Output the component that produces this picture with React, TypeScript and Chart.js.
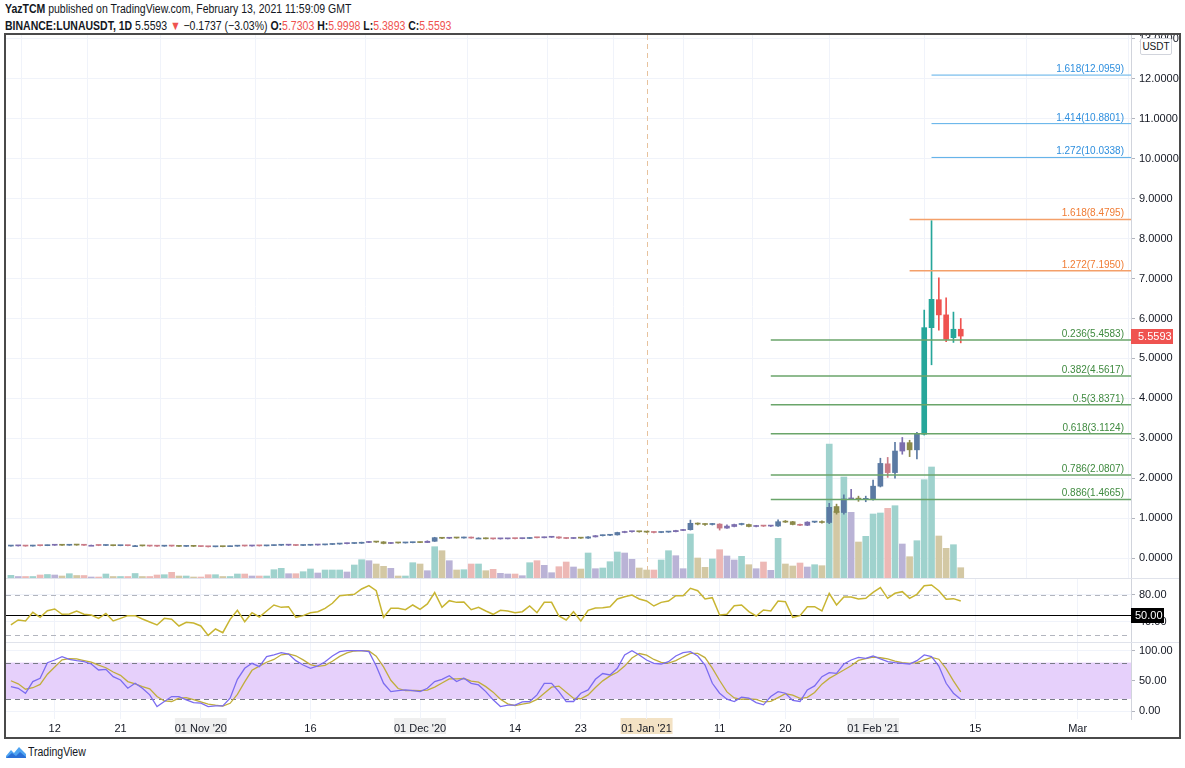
import React, { useEffect, useRef } from 'react';
import { Chart, registerables } from 'chart.js';
Chart.register(...registerables);

// Day index: 0 = 2020-10-01. First candle = 2020-10-06.
const FIRST_DAY = 5;

// [open, high, low, close]
const ohlc: [number, number, number, number][] = [
  [0.300,0.312,0.296,0.305],[0.305,0.316,0.300,0.310],[0.310,0.314,0.296,0.300],[0.300,0.320,0.298,0.315],[0.315,0.318,0.305,0.310],
  [0.310,0.326,0.308,0.320],[0.320,0.332,0.316,0.325],[0.325,0.328,0.314,0.320],[0.320,0.336,0.318,0.330],[0.330,0.334,0.320,0.325],
  [0.325,0.328,0.315,0.320],[0.320,0.326,0.314,0.320],[0.320,0.322,0.308,0.315],[0.315,0.326,0.312,0.320],[0.320,0.322,0.305,0.310],
  [0.310,0.320,0.306,0.315],[0.315,0.318,0.305,0.310],[0.310,0.316,0.304,0.310],[0.310,0.313,0.300,0.305],[0.305,0.308,0.296,0.300],
  [0.300,0.304,0.293,0.297],[0.297,0.308,0.294,0.305],[0.305,0.307,0.295,0.300],[0.300,0.302,0.288,0.292],[0.292,0.302,0.290,0.298],
  [0.298,0.300,0.288,0.293],[0.293,0.296,0.284,0.288],[0.288,0.290,0.276,0.282],[0.282,0.292,0.280,0.288],[0.288,0.290,0.280,0.285],
  [0.285,0.300,0.283,0.297],[0.297,0.312,0.295,0.308],[0.308,0.310,0.298,0.302],[0.302,0.314,0.300,0.310],[0.310,0.312,0.300,0.305],
  [0.305,0.316,0.303,0.312],[0.312,0.326,0.310,0.320],[0.320,0.328,0.314,0.322],[0.322,0.330,0.316,0.324],[0.324,0.326,0.310,0.315],
  [0.315,0.324,0.312,0.320],[0.320,0.330,0.318,0.326],[0.326,0.336,0.322,0.330],[0.330,0.345,0.328,0.340],[0.340,0.356,0.336,0.350],
  [0.350,0.366,0.346,0.360],[0.360,0.372,0.354,0.365],[0.365,0.376,0.360,0.370],[0.370,0.398,0.366,0.390],[0.390,0.420,0.386,0.410],
  [0.410,0.418,0.392,0.400],[0.405,0.412,0.355,0.365],[0.365,0.388,0.360,0.380],[0.380,0.386,0.372,0.378],[0.378,0.392,0.374,0.385],
  [0.385,0.396,0.380,0.390],[0.390,0.398,0.384,0.388],[0.388,0.432,0.386,0.420],[0.420,0.520,0.415,0.510],[0.510,0.518,0.488,0.495],
  [0.495,0.515,0.490,0.510],[0.510,0.514,0.496,0.502],[0.502,0.525,0.498,0.520],[0.520,0.526,0.496,0.500],[0.500,0.508,0.492,0.500],
  [0.500,0.503,0.478,0.482],[0.482,0.488,0.474,0.480],[0.480,0.486,0.474,0.481],[0.481,0.494,0.478,0.488],[0.488,0.494,0.480,0.486],
  [0.486,0.496,0.482,0.490],[0.490,0.516,0.488,0.510],[0.510,0.518,0.502,0.508],[0.508,0.526,0.504,0.520],[0.520,0.536,0.516,0.530],
  [0.530,0.534,0.494,0.500],[0.500,0.504,0.484,0.490],[0.490,0.508,0.486,0.500],[0.500,0.506,0.492,0.498],[0.498,0.536,0.494,0.530],
  [0.530,0.566,0.526,0.560],[0.560,0.576,0.552,0.570],[0.570,0.588,0.562,0.580],[0.580,0.648,0.574,0.640],[0.640,0.672,0.632,0.660],
  [0.660,0.672,0.646,0.662],[0.662,0.670,0.648,0.658],[0.658,0.664,0.640,0.650],[0.650,0.656,0.632,0.640],[0.640,0.656,0.634,0.650],
  [0.650,0.668,0.644,0.660],[0.660,0.696,0.654,0.690],[0.690,0.718,0.684,0.710],[0.710,0.950,0.700,0.870],[0.870,0.880,0.830,0.850],
  [0.850,0.866,0.820,0.840],[0.840,0.870,0.826,0.850],[0.850,0.860,0.700,0.750],[0.750,0.830,0.740,0.800],[0.790,0.850,0.780,0.840],
  [0.840,0.872,0.826,0.850],[0.840,0.850,0.780,0.790],[0.790,0.820,0.780,0.810],[0.810,0.818,0.790,0.800],[0.800,0.812,0.788,0.802],
  [0.802,0.960,0.790,0.910],[0.910,0.940,0.890,0.900],[0.910,0.920,0.830,0.840],[0.840,0.850,0.810,0.820],[0.820,0.910,0.810,0.900],
  [0.900,0.915,0.886,0.902],[0.902,0.932,0.872,0.890],[0.890,1.370,0.860,1.270],[1.290,1.350,1.100,1.140],[1.140,1.580,1.100,1.480],
  [1.480,1.720,1.460,1.495],[1.500,1.550,1.420,1.470],[1.470,1.550,1.410,1.480],[1.480,1.950,1.450,1.800],[1.800,2.500,1.780,2.370],
  [2.360,2.520,2.020,2.140],[2.140,2.900,2.000,2.680],[2.680,3.020,2.600,2.890],[2.890,2.950,2.540,2.710],[2.710,3.150,2.480,3.100],
  [3.100,6.210,3.080,5.770],[5.770,8.450,4.840,6.480],[6.470,7.020,5.710,6.090],[6.090,6.520,5.420,5.480],[5.520,6.160,5.400,5.730],
  [5.7303,5.9998,5.3893,5.5593],
];

// Volume (relative units)
const volume: number[] = [
  2.7,1.5,1.5,1.5,3,3.5,3,2,4.3,2.5,
  2.5,1,1,4,1.5,1.5,1.5,4.5,1.5,1.5,
  3,3.3,5.7,2,2,1,1,3.3,3.3,1.5,
  1.5,4,4,2,2,2,8.3,9.7,4.3,4.3,
  6.3,9,5,8,8,8,6,13,18.3,17.3,
  14,11.7,9.7,2,
  2,15.3,14,7.3,31.3,27.3,17.3,8,8.3,14,
  14,7.3,8.7,4.7,4,4,2.3,15.3,17.3,12.7,
  5.3,11.3,16,11,9,25,9.3,10,16.3,26,
  25,18.7,10,8,8,18,27.3,22.3,9.3,44,
  20,10.7,19,28.3,22,18,21.7,13.3,9.3,16,
  7.7,39.7,14,12,15,
  11,13.3,12.3,134,66.7,101,65.7,36,41.7,64,
  65,69.7,72.3,34,21.3,37.3,98.3,111,42,29.7,
  33.3,10.3,
];

const rsi: number[] = [
  35.6,43.0,41.5,54.3,46.9,56.8,59.3,51.4,51.9,56.3,
  51.4,50.4,45.4,52.8,41.5,45.4,49.4,49.4,44.4,40.0,
  35.6,45.4,44.0,34.1,39.5,38.5,34.1,20.2,29.6,24.2,
  44.0,57.3,40.5,53.8,47.4,56.3,65.2,61.7,62.7,46.9,
  49.4,53.8,55.3,60.2,67.7,79.0,80.0,81.0,88.9,93.8,
  86.4,46.9,60.2,60.2,58.3,65.2,58.8,66.7,83.5,61.7,
  71.6,69.1,69.6,58.3,61.7,56.3,51.4,57.3,56.3,53.8,
  55.3,63.7,53.8,69.1,69.1,48.9,43.0,55.3,41.5,57.3,
  60.7,61.2,
  62.7,74.1,77.5,80.0,74.1,71.1,63.7,69.1,71.1,79.0,
  79.0,89.9,86.4,74.1,76.0,50.4,51.4,64.2,65.2,55.3,
  48.9,57.8,56.3,71.1,70.1,46.9,49.4,62.7,62.7,56.3,
  82.5,65.2,77.0,77.0,74.1,75.1,84.0,90.9,75.1,82.5,
  84.9,75.1,81.0,93.8,94.8,86.4,73.6,74.6,71.1,
];

const stochK: number[] = [
  40.4,37.6,29.4,48.6,54.1,79.9,84.3,89.8,85.4,83.2,
  81.5,77.7,67.8,68.9,56.8,51.3,37.6,45.8,37.6,26.7,
  7.4,15.7,23.9,23.9,18.5,14.0,12.9,7.4,8.5,8.5,
  21.2,52.4,70.6,78.8,73.3,89.8,92.6,96.4,94.2,83.2,
  76.0,70.6,74.4,81.5,90.9,98.1,99.7,99.7,99.7,98.1,
  74.4,45.8,32.1,33.8,34.9,33.8,32.1,37.6,48.6,52.4,
  58.4,48.6,54.1,45.8,43.1,32.1,18.5,7.4,9.6,9.6,
  15.2,15.7,26.7,45.8,45.8,32.1,15.7,15.7,29.4,34.9,
  52.4,62.0,
  59.5,70.6,92.6,99.7,92.6,84.3,78.8,77.7,81.5,90.9,
  96.4,98.1,90.9,76.0,45.8,29.4,19.6,15.7,22.9,21.2,
  14.0,10.2,23.9,32.1,29.4,17.4,15.7,34.9,41.5,56.8,
  63.4,62.3,77.7,84.3,88.7,87.0,90.9,86.0,81.5,79.9,
  78.8,77.7,83.2,92.6,89.8,74.4,45.8,29.4,19.6,
];

const stochD: number[] = [
  50.0,45.0,36.0,38.5,44.0,60.9,72.8,84.7,86.5,86.1,
  83.4,80.8,75.7,71.5,64.5,59.0,48.6,44.9,40.3,36.7,
  23.9,16.6,15.7,21.2,22.1,18.8,15.1,11.4,9.6,8.1,
  12.7,27.4,48.1,67.3,74.2,80.6,85.2,92.9,94.4,91.3,
  84.5,76.6,73.7,75.5,82.3,90.2,96.2,99.2,99.7,99.2,
  90.7,72.8,50.8,37.2,33.6,34.2,33.6,34.5,39.4,46.2,
  53.1,53.1,53.7,49.5,47.7,40.3,31.2,19.3,11.8,8.9,
  11.5,13.5,19.2,29.4,39.4,41.2,31.2,21.2,20.3,26.7,
  38.9,49.8,
  58.0,64.0,74.2,87.6,95.0,92.2,85.2,80.3,79.3,83.4,
  89.6,95.1,95.1,88.3,70.9,50.4,31.6,21.6,19.4,19.9,
  19.4,15.1,16.0,22.1,28.5,26.3,20.8,22.7,30.7,44.4,
  53.9,60.8,67.8,74.8,83.6,86.7,88.9,88.0,86.1,82.5,
  80.1,78.8,79.9,84.5,88.5,85.6,70.0,49.9,31.6,
];

const xTickDays = [11, 20, 31, 46, 61, 74, 83, 92, 102, 111, 123, 137, 151];
const xTickLabels = ['12', '21', "01 Nov '20", '16', "01 Dec '20", '14', '23', "01 Jan '21", '11', '20', "01 Feb '21", '15', 'Mar'];
const monthTickLabels = ["01 Nov '20", "01 Dec '20", "01 Feb '21"];
const yearTickLabel = "01 Jan '21";
const yearStartDay = 92;

const priceTicks = [0,1,2,3,4,5,6,7,8,9,10,11,12,13];
const rsiTicks = [40, 80];
const stochTicks = [0, 50, 100];

const fibRatios = ['1.618','1.414','1.272','1.618','1.272','0.236','0.382','0.5','0.618','0.786','0.886'];
const fibPrices = [12.0959,10.8801,10.0338,8.4795,7.1950,5.4583,4.5617,3.8371,3.1124,2.0807,1.4665];
const fibStartDays = [131,131,131,128,128,109,109,109,109,109,109];
const fibGroups = ['ext2','ext2','ext2','ext1','ext1','ret','ret','ret','ret','ret','ret'];
const paintedLastDay = 129;

const X_MIN = 4.33, X_MAX = 158.3;
const AXIS_FONT = "'Liberation Sans', Arial, sans-serif";
const GRID = '#f0f3fa';
const TEXT = '#131722';

const fibStyle: Record<string, { line: string; text: string; width: number }> = {
  ext2: { line: '#5aaee8', text: '#2f8fde', width: 1 },
  ext1: { line: '#f4a06a', text: '#f07c34', width: 1.5 },
  ret: { line: '#6aa56a', text: '#3f8a3f', width: 1.5 },
};

export default function App() {
  const mainRef = useRef<HTMLCanvasElement>(null);
  const rsiRef = useRef<HTMLCanvasElement>(null);
  const stochRef = useRef<HTMLCanvasElement>(null);

  useEffect(() => {
    const days = ohlc.map((_, i) => FIRST_DAY + i);
    const isUp = ohlc.map(([o, , , c]) => c >= o);
    const volUp = volume.map((v, i) => i === 0 || v >= volume[i - 1]);
    const candleColor = days.map((d, i) =>
      d > paintedLastDay ? (isUp[i] ? '#26a69a' : '#ef5350')
        : isUp[i] ? (volUp[i] ? '#5b7aa3' : '#7d6fae') : (volUp[i] ? '#c97a86' : '#8c8a4a'));
    const volColor = days.map((d, i) =>
      isUp[i] ? (volUp[i] ? '#9fd2cd' : '#bab3d6') : (volUp[i] ? '#edb8b5' : '#d3c8a4'));

    const noPad = (s: any) => { s.paddingTop = 0; s.paddingBottom = 0; s.paddingLeft = 0; s.paddingRight = 0; };
    const xScale = (hideTicks: boolean): any => ({
      type: 'linear', min: X_MIN, max: X_MAX, offset: false,
      grid: { color: GRID, drawTicks: false },
      border: { display: false },
      afterBuildTicks: (s: any) => { s.ticks = xTickDays.map((v) => ({ value: v })); },
      ticks: hideTicks ? { display: false } : {
        autoSkip: false, maxRotation: 0, minRotation: 0, padding: 3,
        color: TEXT, font: { family: AXIS_FONT, size: 11 },
        callback: (v: any) => xTickLabels[xTickDays.indexOf(Number(v))] ?? '',
      },
      afterFit: (s: any) => { s.height = hideTicks ? 0 : 18; noPad(s); },
    });
    const yScale = (min: number, max: number, ticks: number[], dec: number): any => ({
      type: 'linear', position: 'right', min, max,
      afterBuildTicks: (s: any) => { s.ticks = ticks.map((v) => ({ value: v })); },
      ticks: { color: TEXT, font: { family: AXIS_FONT, size: 11 }, padding: 4, callback: (v: any) => Number(v).toFixed(dec) },
      grid: { color: GRID, tickLength: 4, tickColor: '#b2b5be' },
      border: { display: true, color: '#d1d4dc' },
      afterFit: (s: any) => { s.width = 48; noPad(s); },
    });

    const mainOverlay = {
      id: 'mainOverlay',
      beforeDatasetsDraw(chart: any) {
        const { ctx, chartArea, scales } = chart;
        const x = Math.round(scales.x.getPixelForValue(yearStartDay)) + 0.5;
        ctx.save();
        ctx.strokeStyle = '#e7c29d';
        ctx.lineWidth = 1;
        ctx.setLineDash([5, 4]);
        ctx.beginPath(); ctx.moveTo(x, chartArea.top); ctx.lineTo(x, chartArea.bottom); ctx.stroke();
        ctx.restore();
      },
      afterDatasetsDraw(chart: any) {
        const { ctx, chartArea, scales } = chart;
        ctx.save();
        fibPrices.forEach((p, i) => {
          const st = fibStyle[fibGroups[i]];
          const y = scales.y.getPixelForValue(p);
          const x0 = scales.x.getPixelForValue(fibStartDays[i]);
          ctx.strokeStyle = st.line; ctx.lineWidth = st.width;
          ctx.beginPath(); ctx.moveTo(x0, y); ctx.lineTo(chartArea.right, y); ctx.stroke();
          ctx.fillStyle = st.text;
          ctx.font = `10px 'Liberation Sans', Arial, sans-serif`;
          ctx.textAlign = 'right'; ctx.textBaseline = 'alphabetic';
          ctx.fillText(`${fibRatios[i]}(${p.toFixed(4)})`, chartArea.right - 7, y - 3);
        });
        ctx.restore();
      },
      afterDraw(chart: any) {
        const { ctx, chartArea, scales } = chart;
        const last = ohlc[ohlc.length - 1];
        const y = Math.round(scales.y.getPixelForValue(last[3]));
        ctx.save();
        ctx.fillStyle = last[3] >= last[0] ? '#26a69a' : '#ef5350';
        ctx.fillRect(chartArea.right, y - 7, 42, 15);
        ctx.fillStyle = '#ffffff';
        ctx.font = `11px ${AXIS_FONT}`;
        ctx.textAlign = 'left'; ctx.textBaseline = 'middle';
        ctx.fillText(last[3].toFixed(4), chartArea.right + 7, y + 0.5);
        ctx.restore();
      },
    };

    const main = new Chart(mainRef.current!, {
      type: 'bar',
      data: {
        datasets: [
          { type: 'bar', label: 'Volume', yAxisID: 'yVol', data: days.map((d, i) => ({ x: d, y: volume[i] })) as any, backgroundColor: volColor, barThickness: 6, grouped: false, order: 3 } as any,
          { type: 'bar', label: 'Wick', yAxisID: 'y', data: days.map((d, i) => ({ x: d, y: [ohlc[i][2], ohlc[i][1]] })) as any, backgroundColor: candleColor, barThickness: 1, grouped: false, order: 2 } as any,
          { type: 'bar', label: 'Body', yAxisID: 'y', data: days.map((d, i) => ({ x: d, y: [ohlc[i][0], ohlc[i][3]] })) as any, backgroundColor: candleColor, barThickness: 5, minBarLength: 1, grouped: false, order: 1 } as any,
        ],
      },
      options: {
        animation: false, responsive: false, maintainAspectRatio: false,
        layout: { padding: 0 },
        plugins: { legend: { display: false }, tooltip: { enabled: false } },
        scales: {
          x: xScale(true),
          y: yScale(-0.50, 13.10, priceTicks, 4),
          yVol: { type: 'linear', display: false, min: 0, max: 543 },
        },
      },
      plugins: [mainOverlay],
    });

    const rsiOverlay = {
      id: 'rsiOverlay',
      beforeDatasetsDraw(chart: any) {
        const { ctx, chartArea, scales } = chart;
        ctx.save();
        ctx.strokeStyle = '#b2b5be'; ctx.lineWidth = 1; ctx.setLineDash([5, 4]);
        [80, 20].forEach((v) => {
          const y = Math.round(scales.y.getPixelForValue(v)) + 0.5;
          ctx.beginPath(); ctx.moveTo(chartArea.left, y); ctx.lineTo(chartArea.right, y); ctx.stroke();
        });
        ctx.setLineDash([]);
        ctx.strokeStyle = '#000000'; ctx.lineWidth = 1.2;
        const y50 = Math.round(scales.y.getPixelForValue(50)) + 0.5;
        ctx.beginPath(); ctx.moveTo(chartArea.left, y50); ctx.lineTo(chartArea.right, y50); ctx.stroke();
        ctx.restore();
      },
      afterDraw(chart: any) {
        const { ctx, chartArea, scales } = chart;
        const y = Math.round(scales.y.getPixelForValue(50));
        ctx.save();
        ctx.fillStyle = '#000000';
        ctx.fillRect(chartArea.right, y - 7, 33, 15);
        ctx.fillStyle = '#ffffff';
        ctx.font = `11px ${AXIS_FONT}`;
        ctx.textAlign = 'left'; ctx.textBaseline = 'middle';
        ctx.fillText((50).toFixed(2), chartArea.right + 4, y + 0.5);
        ctx.restore();
      },
    };

    const rsiChart = new Chart(rsiRef.current!, {
      type: 'line',
      data: {
        datasets: [
          { label: 'RSI', data: days.map((d, i) => ({ x: d, y: rsi[i] })) as any, borderColor: '#c8b532', borderWidth: 1.5, pointRadius: 0, tension: 0 },
        ],
      },
      options: {
        animation: false, responsive: false, maintainAspectRatio: false,
        layout: { padding: 0 },
        plugins: { legend: { display: false }, tooltip: { enabled: false } },
        scales: { x: xScale(true), y: yScale(10.37, 103.7, rsiTicks, 2) },
      },
      plugins: [rsiOverlay],
    });

    const stochOverlay = {
      id: 'stochOverlay',
      beforeDraw(chart: any) {
        const { ctx, chartArea, scales } = chart;
        ctx.save();
        xTickLabels.forEach((lab, i) => {
          const isYear = lab === yearTickLabel;
          if (!isYear && !monthTickLabels.includes(lab)) return;
          const x = scales.x.getPixelForValue(xTickDays[i]);
          ctx.fillStyle = isYear ? '#f3e2c4' : '#efefef';
          ctx.fillRect(x - 26, chartArea.bottom - 1, 52, 16);
        });
        ctx.restore();
      },
      beforeDatasetsDraw(chart: any) {
        const { ctx, chartArea, scales } = chart;
        const y80 = scales.y.getPixelForValue(80);
        const y20 = scales.y.getPixelForValue(20);
        ctx.save();
        ctx.fillStyle = '#e6d0fb';
        ctx.fillRect(chartArea.left, y80, chartArea.right - chartArea.left, y20 - y80);
        ctx.strokeStyle = '#787b86'; ctx.lineWidth = 1; ctx.setLineDash([5, 4]);
        [y80, y20].forEach((yy) => {
          const y = Math.round(yy) + 0.5;
          ctx.beginPath(); ctx.moveTo(chartArea.left, y); ctx.lineTo(chartArea.right, y); ctx.stroke();
        });
        ctx.restore();
      },
    };

    const stochChart = new Chart(stochRef.current!, {
      type: 'line',
      data: {
        datasets: [
          { label: 'K', data: days.map((d, i) => ({ x: d, y: stochK[i] })) as any, borderColor: '#7b6cf0', borderWidth: 1.3, pointRadius: 0, tension: 0 },
          { label: 'D', data: days.map((d, i) => ({ x: d, y: stochD[i] })) as any, borderColor: '#c0ad3b', borderWidth: 1.3, pointRadius: 0, tension: 0 },
        ],
      },
      options: {
        animation: false, responsive: false, maintainAspectRatio: false,
        layout: { padding: 0 },
        plugins: { legend: { display: false }, tooltip: { enabled: false } },
        scales: { x: xScale(false), y: yScale(-13.2, 112.4, stochTicks, 2) },
      },
      plugins: [stochOverlay],
    });

    return () => { main.destroy(); rsiChart.destroy(); stochChart.destroy(); };
  }, []);

  const hdrFont = "'Liberation Sans', Arial, sans-serif";
  const red = '#ef5350';
  const squeeze: React.CSSProperties = { position: 'absolute', left: 5, fontSize: 12.5, whiteSpace: 'nowrap', lineHeight: '15px', transform: 'scaleX(0.84)', transformOrigin: 'left center' };
  return (
    <div style={{ position: 'absolute', left: 0, top: 0, width: 1185, height: 768, background: '#ffffff', fontFamily: hdrFont, color: TEXT, overflow: 'hidden' }}>
      <div style={{ ...squeeze, top: 2 }}>
        <b>YazTCM</b> published on TradingView.com, February 13, 2021 11:59:09 GMT
      </div>
      <div style={{ ...squeeze, top: 19 }}>
        <b>BINANCE:LUNAUSDT, 1D</b> 5.5593 <span style={{ color: red }}>▼</span> −0.1737 (−3.03%) <b>O:</b><span style={{ color: red }}>5.7303</span> <b>H:</b><span style={{ color: red }}>5.9998</span> <b>L:</b><span style={{ color: red }}>5.3893</span> <b>C:</b><span style={{ color: red }}>5.5593</span>
      </div>
      <div style={{ position: 'absolute', left: 4, top: 33, width: 1177, height: 706, border: '2px solid #4a4a4a', boxSizing: 'border-box' }} />
      <canvas ref={mainRef} width={1173} height={543} style={{ position: 'absolute', left: 6, top: 35, width: 1173, height: 543 }} />
      <div style={{ position: 'absolute', left: 6, top: 578, width: 1173, height: 1, background: '#e0e3eb' }} />
      <canvas ref={rsiRef} width={1173} height={63} style={{ position: 'absolute', left: 6, top: 579, width: 1173, height: 63 }} />
      <div style={{ position: 'absolute', left: 6, top: 642, width: 1173, height: 1, background: '#e0e3eb' }} />
      <canvas ref={stochRef} width={1173} height={94} style={{ position: 'absolute', left: 6, top: 643, width: 1173, height: 94 }} />
      <div style={{ position: 'absolute', left: 1140, top: 38, width: 30, height: 15, border: '1px solid #d1d4dc', borderRadius: 2, background: '#ffffff', fontSize: 10, lineHeight: '15px', textAlign: 'center', fontFamily: hdrFont }}>USDT</div>
      <div style={{ position: 'absolute', left: 6, top: 745, display: 'flex', alignItems: 'center', gap: 2 }}>
        <svg width="20" height="13" viewBox="0 0 20 13">
          <path d="M0 10 L5 4 L8 7 L13 1 L20 8 L20 12 L0 12 Z" fill="#4ea3f1" />
          <path d="M0 12 L6 7 L10 10 L14 6 L20 11 L20 12 Z" fill="#2a6fd6" />
        </svg>
        <span style={{ fontSize: 12.5, color: TEXT, display: 'inline-block', transform: 'scaleX(0.84)', transformOrigin: 'left center' }}>TradingView</span>
      </div>
    </div>
  );
}
